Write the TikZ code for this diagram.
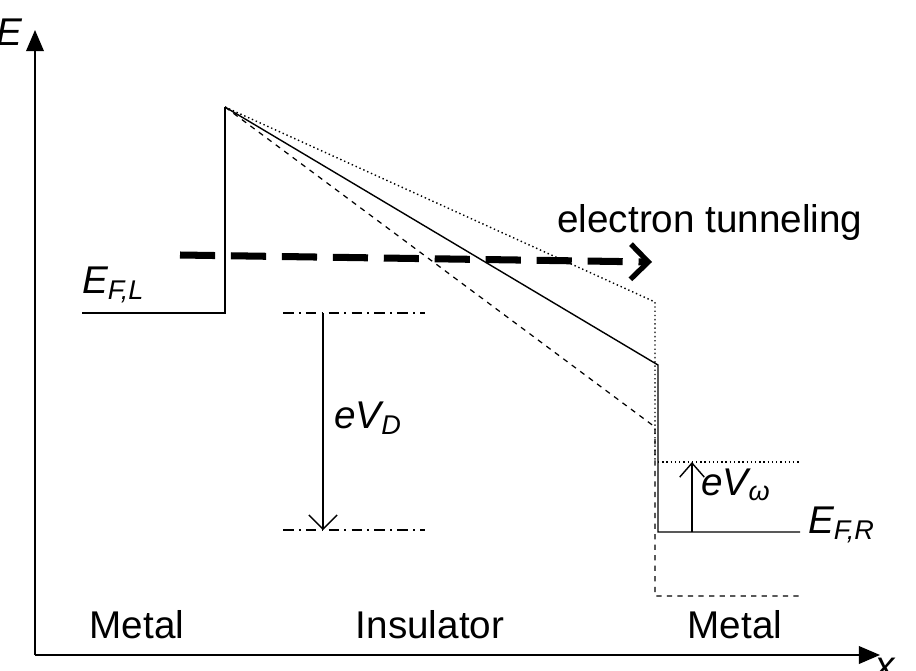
\documentclass[tikz,border=0pt]{standalone}
\usepackage{fontspec}
\setmainfont{Liberation Sans}
\usetikzlibrary{arrows.meta}
\begin{document}
\begin{tikzpicture}[x=0.02cm,y=-0.02cm,
    lbl/.style={font=\fontsize{22}{26}\selectfont\itshape, inner sep=1pt},
    word/.style={font=\fontsize{22}{26}\selectfont, inner sep=1pt},
    level/.style={line width=0.8pt},
    fine/.style={line width=0.8pt, dash pattern=on 0.8pt off 1.6pt},
    dashdot/.style={line width=0.6pt, dash pattern=on 6pt off 3pt on 1pt off 3pt}]
    % frame of the picture
    \useasboundingbox (0,0) rectangle (916,670);

    % axes
    \coordinate (O) at (35,655);
    \draw[line width=1pt,-{Triangle[length=12pt,width=10pt]}] (O) -- (35,30) node[lbl, anchor=north east, xshift=-6pt, yshift=8pt] (E) {E};
    \draw[line width=1pt,-{Triangle[length=12pt,width=10pt]}] (O) -- (880,655) node[lbl, anchor=north west, yshift=0pt, xshift=-4pt] (X) {x};

    % left metal and barrier peak
    \coordinate (LL) at (82,313);
    \coordinate (LR) at (225,313);
    \coordinate (P) at (225,107);
    \draw[level] (LL) -- (LR) -- (P);
    \node[lbl, anchor=west] (EFL) at (80,285) {E\textsubscript{F,L}};

    % barrier slopes for three biases
    \coordinate (Tdot) at (655,302);
    \coordinate (Tsol) at (658,365);
    \coordinate (Tdash) at (655,427);
    \draw[fine] (P) -- (Tdot) -- (655,462);
    \draw[level] (P) -- (Tsol) -- (658,532) -- (800,532);
    \draw[line width=0.7pt, dashed] (P) -- (Tdash) -- (655,596) -- (800,596);
    \draw[fine] (658,462) -- (800,462);
    \node[lbl, anchor=west] (EFR) at (806,525) {E\textsubscript{F,R}};

    % photon energy
    \coordinate (W1) at (692,532);
    \coordinate (W2) at (692,462);
    \draw[level,-{Straight Barb[length=8pt,width=14pt]}] (W1) -- (W2);
    \node[lbl] (eVw) at (736,485) {eV\textsubscript{ω}};

    % dc bias
    \draw[dashdot] (283,313) -- (425,313);
    \draw[dashdot] (283,530) -- (425,530);
    \coordinate (D1) at (323,313);
    \coordinate (D2) at (323,530);
    \draw[level,-{Straight Barb[length=8pt,width=16pt]}] (D1) -- (D2);
    \node[lbl] (eVD) at (368,418) {eV\textsubscript{D}};

    % tunneling arrow
    \coordinate (T1) at (180,255);
    \coordinate (T2) at (652,262);
    \draw[line width=4pt, dash pattern=on 20pt off 9pt, -{Straight Barb[length=10pt,width=20pt,line width=3pt]}] (T1) -- (T2);
    \node[word] (tun) at (710,222) {electron tunneling};

    % regions
    \node[word] (m1) at (137,625) {Metal};
    \node[word] (ins) at (430,625) {Insulator};
    \node[word] (m2) at (735,625) {Metal};
\end{tikzpicture}
\end{document}
